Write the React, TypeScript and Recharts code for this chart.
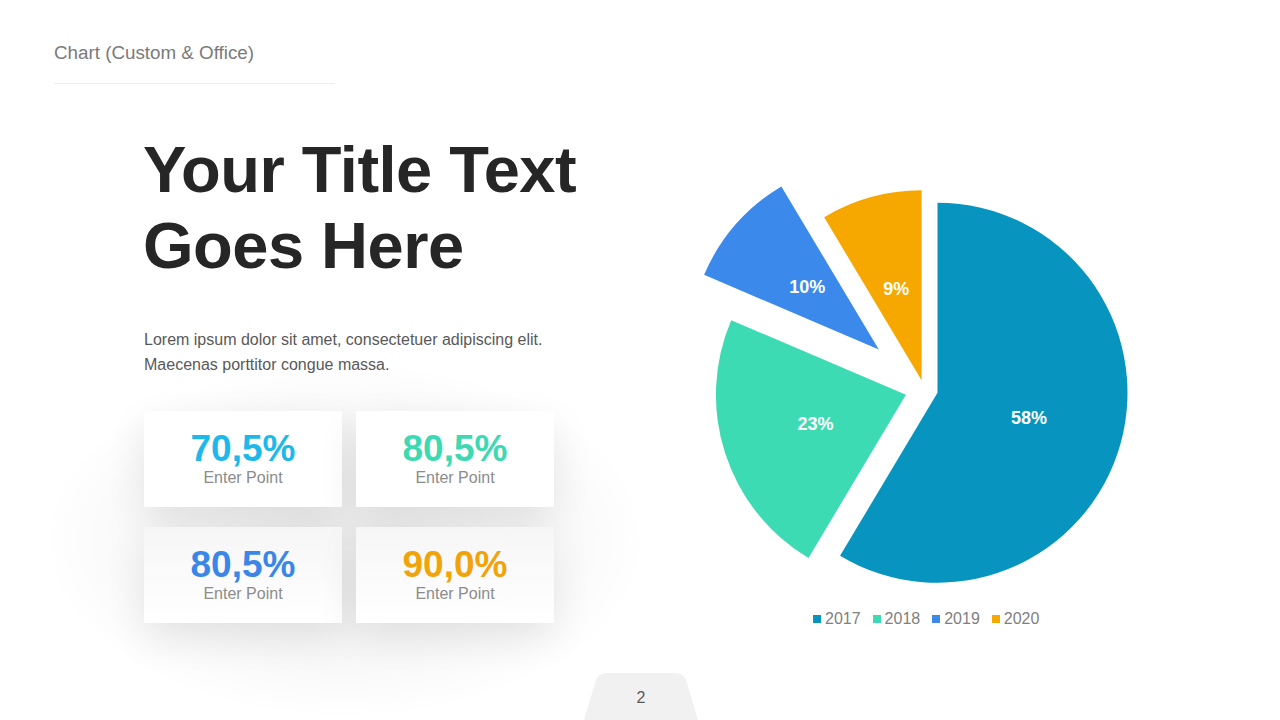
import React from "react";
import { PieChart, Pie, Cell, Sector } from "recharts";

// pie data
const years = ["2017", "2018", "2019", "2020"];
const sales = [8.2, 3.2, 1.4, 1.2];
const sliceLabels = ["58%", "23%", "10%", "9%"];

// stat cards
const statValues = ["70,5%", "80,5%", "80,5%", "90,0%"];
const statCaptions = ["Enter Point", "Enter Point", "Enter Point", "Enter Point"];

const pieColors = ["#0795c0", "#3ddbb3", "#3b89eb", "#f6a800"];
const statColors = ["#1cb9ea", "#3dd9b3", "#3a87e8", "#f0a30a"];
// how far each slice is pulled out from the centre (px)
const explode = [14, 19, 60, 9];

const FONT = "'Liberation Sans', Arial, sans-serif";
const RAD = Math.PI / 180;

const pieData = years.map((name, i) => ({ name, value: sales[i] }));

/**
 * Draws each slice pulled away from the centre along its mid angle,
 * with the percentage label halfway out on the slice.
 */
function ExplodedSlice(props: any) {
  const { cx, cy, outerRadius, startAngle, endAngle, midAngle, index } = props;
  const dx = Math.cos(-midAngle * RAD);
  const dy = Math.sin(-midAngle * RAD);
  const ox = cx + explode[index] * dx;
  const oy = cy + explode[index] * dy;
  const r = outerRadius * 0.5;
  return (
    <g>
      <Sector
        cx={ox}
        cy={oy}
        innerRadius={0}
        outerRadius={outerRadius}
        startAngle={startAngle}
        endAngle={endAngle}
        fill={pieColors[index]}
        stroke="none"
      />
      <text
        x={ox + r * dx}
        y={oy + r * dy}
        fill="#ffffff"
        textAnchor="middle"
        dominantBaseline="central"
        fontSize={18}
        fontWeight={700}
        fontFamily={FONT}
      >
        {sliceLabels[index]}
      </text>
    </g>
  );
}

function StatCard({ i, left, top }: { i: number; left: number; top: number }) {
  const lower = top > 500;
  return (
    <div
      style={{
        position: "absolute",
        left,
        top,
        width: 198,
        height: 96,
        background: lower ? "linear-gradient(#f6f6f6, #ffffff)" : "#ffffff",
        boxShadow: "0 14px 40px rgba(0,0,0,0.09)",
        textAlign: "center",
      }}
    >
      <div
        style={{
          position: "absolute",
          left: 0,
          right: 0,
          top: 19,
          fontSize: 37,
          lineHeight: "37px",
          fontWeight: 700,
          color: statColors[i],
        }}
      >
        {statValues[i]}
      </div>
      <div
        style={{
          position: "absolute",
          left: 0,
          right: 0,
          top: 59,
          fontSize: 16,
          lineHeight: "16px",
          color: "#8c8c8c",
        }}
      >
        {statCaptions[i]}
      </div>
    </div>
  );
}

export default function App() {
  return (
    <div
      style={{
        position: "fixed",
        left: 0,
        top: 0,
        width: 1280,
        height: 720,
        overflow: "hidden",
        background: "#ffffff",
        fontFamily: FONT,
      }}
    >
      <div
        style={{
          position: "absolute",
          left: 54,
          top: 44,
          fontSize: 18.8,
          lineHeight: "18px",
          color: "#7a7a7a",
        }}
      >
        Chart (Custom &amp; Office)
      </div>
      <div
        style={{
          position: "absolute",
          left: 54,
          top: 83,
          width: 281,
          height: 1,
          background: "#eeeeee",
        }}
      />

      <div
        style={{
          position: "absolute",
          left: 143,
          top: 131.5,
          fontSize: 65,
          lineHeight: "76px",
          fontWeight: 700,
          letterSpacing: -0.5,
          color: "#262626",
        }}
      >
        Your Title Text
        <br />
        Goes Here
      </div>

      <div
        style={{
          position: "absolute",
          left: 144,
          top: 327,
          fontSize: 16,
          lineHeight: "25px",
          color: "#595959",
        }}
      >
        Lorem ipsum dolor sit amet, consectetuer adipiscing elit.
        <br />
        Maecenas porttitor congue massa.
      </div>

      {/* soft glow behind the cards */}
      <div
        style={{
          position: "absolute",
          left: 40,
          top: 360,
          width: 610,
          height: 360,
          background:
            "radial-gradient(ellipse at center, rgba(0,0,0,0.07) 0%, rgba(0,0,0,0.03) 45%, rgba(0,0,0,0) 70%)",
        }}
      />
      <StatCard i={0} left={144} top={411} />
      <StatCard i={1} left={356} top={411} />
      <StatCard i={2} left={144} top={527} />
      <StatCard i={3} left={356} top={527} />

      <div style={{ position: "absolute", left: 669, top: 134 }}>
        <PieChart width={500} height={500}>
          <Pie
            data={pieData}
            dataKey="value"
            nameKey="name"
            cx={250}
            cy={250}
            innerRadius={0}
            outerRadius={190}
            startAngle={90}
            endAngle={-270}
            stroke="none"
            label={ExplodedSlice}
            labelLine={false}
            isAnimationActive={false}
          >
            {pieData.map((d) => (
              <Cell key={d.name} fill="transparent" />
            ))}
          </Pie>
        </PieChart>
      </div>

      <div
        style={{
          position: "absolute",
          left: 813,
          top: 610.5,
          display: "flex",
          fontSize: 16,
          lineHeight: "16px",
          color: "#7f7f7f",
        }}
      >
        {years.map((y, i) => (
          <div key={y} style={{ display: "flex", alignItems: "center", marginRight: 12 }}>
            <span
              style={{
                display: "inline-block",
                width: 8,
                height: 8,
                background: pieColors[i],
                marginRight: 4,
              }}
            />
            {y}
          </div>
        ))}
      </div>

      <svg
        style={{ position: "absolute", left: 580, top: 670 }}
        width={122}
        height={50}
      >
        <path
          d="M 4 50 L 16 10 Q 19 3 27 3 L 95 3 Q 103 3 106 10 L 118 50 Z"
          fill="#f1f1f1"
        />
      </svg>
      <div
        style={{
          position: "absolute",
          left: 580,
          width: 122,
          top: 689.5,
          textAlign: "center",
          fontSize: 16,
          lineHeight: "16px",
          color: "#595959",
        }}
      >
        2
      </div>
    </div>
  );
}
